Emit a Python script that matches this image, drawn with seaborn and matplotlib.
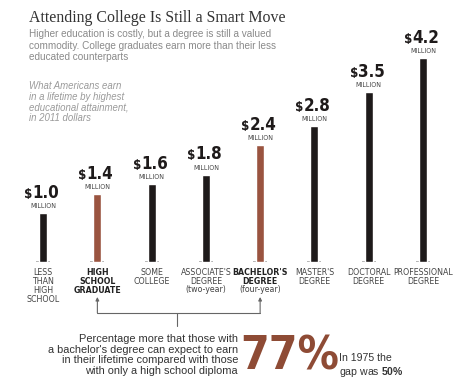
import numpy as np
import pandas as pd
import seaborn as sns
import matplotlib.pyplot as plt
from matplotlib import font_manager
from matplotlib.font_manager import FontProperties
from matplotlib.transforms import blended_transform_factory, IdentityTransform

# data
categories = ["Less than high school", "High school graduate", "Some college",
              "Associate's degree", "Bachelor's degree", "Master's degree",
              "Doctoral degree", "Professional degree"]
earnings = [1.0, 1.4, 1.6, 1.8, 2.4, 2.8, 3.5, 4.2]   # $ million, lifetime, 2011 dollars
highlight = [False, True, False, False, True, False, False, False]
tick_main = ["LESS\nTHAN\nHIGH\nSCHOOL", "HIGH\nSCHOOL\nGRADUATE", "SOME\nCOLLEGE",
             "ASSOCIATE'S\nDEGREE", "BACHELOR'S\nDEGREE", "MASTER'S\nDEGREE",
             "DOCTORAL\nDEGREE", "PROFESSIONAL\nDEGREE"]
tick_sub = ["", "", "", "(two-year)", "(four-year)", "", "", ""]

gap_now = 77
gap_1975 = 50

BLACK = "#1e1a1a"
BROWN = "#9a5440"
GRAY = "#8a8a8a"
SANS = "Liberation Sans"
SERIF = "Liberation Serif"


# look for a condensed face (the original uses a condensed gothic)
def find_font(bold, stretches):
    for st in stretches:
        for fam in ["Liberation Sans Narrow", "Noto Sans", "DejaVu Sans", "Open Sans", "Roboto"]:
            for f in font_manager.fontManager.ttflist:
                w = f.weight if isinstance(f.weight, int) else font_manager.weight_dict.get(f.weight, 400)
                if f.name == fam and f.stretch == st and f.style == "normal" and (w >= 600) == bold \
                        and (w <= 700):
                    return f.fname
    return None


big_path = find_font(True, ["extra-condensed", "condensed", "semi-condensed"])
bold_path = find_font(True, ["condensed", "semi-condensed", "extra-condensed"])
reg_path = find_font(False, ["condensed", "semi-condensed", "extra-condensed"])


def fp(path, size, bold=False):
    if path:
        return FontProperties(fname=path, size=size)
    # fallback: plain sans, a bit smaller
    return FontProperties(family=SANS, size=size * 0.82, weight="bold" if bold else "normal")


df = pd.DataFrame({"category": categories, "earnings": earnings, "highlight": highlight})

sns.set_style("white")
plt.rcParams["font.family"] = [SANS, "DejaVu Sans"]
plt.rcParams["mathtext.fontset"] = "custom"
plt.rcParams["mathtext.rm"] = SANS
plt.rcParams["mathtext.bf"] = SANS + ":bold"

W, H = 474, 387
fig = plt.figure(figsize=(W / 100, H / 100), dpi=100)
# axes placed in pixel terms: baseline at y=262, x from 16 to 450
ax = fig.add_axes([16 / W, (H - 262) / H, 434 / W, (262 - 30) / H])

sns.barplot(data=df, x="category", y="earnings", hue="highlight",
            palette={False: BLACK, True: BROWN}, width=0.15,
            legend=False, ax=ax, saturation=1)
ax.set_xlim(-0.5, 7.5)
ax.set_ylim(0, (262 - 30) / 48.6)
ax.axis("off")

# little gray base marks under every bar
xs = np.arange(len(categories))
ax.hlines([0] * len(xs), xs - 0.13, xs + 0.13, color="#b0b0b0", lw=1.3, zorder=0)


def fy(py):
    return 1 - py / H


tr = blended_transform_factory(ax.transData, fig.transFigure)

# value labels
NUM_OFF = 11.0  # points above bar top for the number baseline
fig.canvas.draw()
renderer = fig.canvas.get_renderer()
for i, v in enumerate(earnings):
    num = ax.annotate(f"{v:.1f}", (i, v), xytext=(2.0, NUM_OFF), textcoords="offset points",
                      ha="center", va="baseline", fontproperties=fp(bold_path, 12.2, True),
                      color=BLACK)
    ax.annotate("MILLION", (i, v), xytext=(0, 5.0), textcoords="offset points",
                ha="center", va="center", fontproperties=fp(reg_path, 5.0), color="#444444")
    bb = num.get_window_extent(renderer)
    x_disp, y_disp = ax.transData.transform((i, v))
    fig.text(bb.x0 - 0.2, y_disp + NUM_OFF / 0.72, r"\$", transform=IdentityTransform(),
             ha="right", va="baseline", fontproperties=fp(bold_path, 9.5, True), color=BLACK)

# category labels under the bars
for i in xs:
    col = "#222222" if highlight[i] else "#444444"
    prop = fp(bold_path, 6.3, True) if highlight[i] else fp(reg_path, 6.3)
    ax.text(i, fy(268), tick_main[i], transform=tr, ha="center", va="top",
            fontproperties=prop, color=col, linespacing=1.0)
    if tick_sub[i]:
        ax.text(i, fy(285.5), tick_sub[i], transform=tr, ha="center", va="top",
                fontproperties=fp(reg_path, 6.3), color="#444444")

# bracket linking high school and bachelor's
hs, ba = 1, 4
lc = "#666666"
for xi in (hs, ba):
    ax.annotate("", xy=(xi, fy(297)), xycoords=tr, xytext=(xi, fy(313)), textcoords=tr,
                arrowprops=dict(arrowstyle="-|>", color=lc, lw=0.8, mutation_scale=5,
                                shrinkA=0, shrinkB=0))
ax.plot([hs, ba], [fy(313), fy(313)], transform=tr, color=lc, lw=0.8, clip_on=False)
mid = (hs + ba) / 2 - 0.04
ax.plot([mid, mid], [fy(313), fy(326)], transform=tr, color=lc, lw=0.8, clip_on=False)

# titles
fig.text(29 / W, fy(18), "Attending College Is Still a Smart Move", family=SERIF,
         fontsize=11.4, color="#333333", va="center", ha="left")
fig.text(29 / W, fy(29), "Higher education is costly, but a degree is still a valued\n"
         "commodity. College graduates earn more than their less\neducated counterparts",
         fontsize=7.2, color=GRAY, va="top", ha="left", linespacing=1.2)
fig.text(29 / W, fy(81), "What Americans earn\nin a lifetime by highest\n"
         "educational attainment,\nin 2011 dollars", fontsize=6.9, style="italic",
         color="#9a9a9a", va="top", ha="left", linespacing=1.1)

# bottom callout
fig.text(238 / W, fy(355), "Percentage more that those with\na bachelor's degree can expect to earn\n"
         "in their lifetime compared with those\nwith only a high school diploma",
         fontsize=7.9, color="#333333", ha="right", va="center", linespacing=1.08)
fig.text(290 / W, fy(357), f"{gap_now}%", fontproperties=fp(big_path, 33, True),
         color="#8e4b35", ha="center", va="center")
fig.text(339 / W, fy(366), "In 1975 the\ngap was $\\mathbf{" + str(gap_1975) + r"\%}$",
         fontsize=7.6, color="#333333", ha="left", va="center", linespacing=1.15)

fig.savefig("out.png", dpi=100, facecolor="white")
